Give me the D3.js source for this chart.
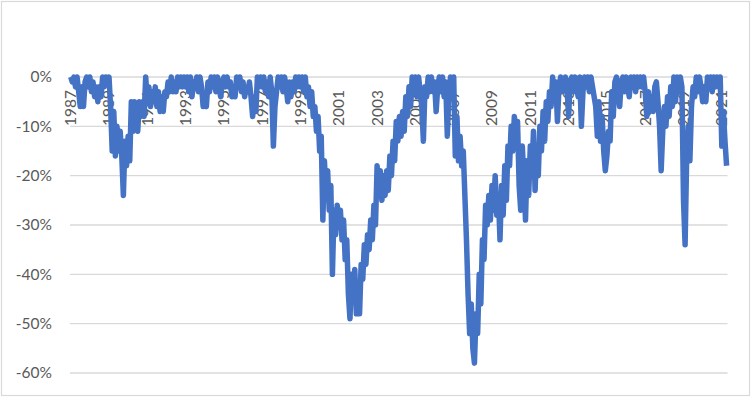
<!DOCTYPE html>
<html>
<head>
<meta charset="utf-8">
<script src="https://cdn.jsdelivr.net/npm/d3@7"></script>
<style>
  body { margin: 0; background: #fff; }
  svg { display: block; }
  .tick-label { font-family: Lato, "Open Sans", sans-serif; font-size: 15.5px; fill: #595959; }
</style>
</head>
<body>
<svg id="chart" width="752" height="397"></svg>
<script>
// monthly drawdown in %, one row per year
const dd1980s = [
   0, -1,  0, -2,  0, -3, -6, -2, -6, -1,  0, -2,   // 1987
   0, -3, -1, -4, -2, -5, -2, -4,  0, -2,  0, -1,   // 1988
   0, -6,-15, -7,-16,-10,-15,-11,-16,-24,-13,-18    // 1989
];
const dd1990s = [
 -12,-17, -5,-11, -5, -9,-11, -5, -8, -5, -8,  0,   // 1990
  -5, -2, -6, -3, -5, -2, -6, -3, -7, -4, -7, -3,   // 1991
  -4, -1, -3,  0, -3, -1, -3,  0, -2,  0, -2,  0,   // 1992
  -2,  0, -3,  0, -4, -1, -2,  0, -3,  0, -2, -6,   // 1993
  -4, -6, -1, -3,  0, -2,  0, -3,  0, -2, -4, -1,   // 1994
   0, -2,  0, -2, -1, -4, -2, -4,  0, -2,  0, -3,   // 1995
  -1, -4, -2, -3, -1, -4, -8, -4, -7,  0, -2,  0,   // 1996
  -2,  0, -3, -1, -4,  0, -3,-14, -6, -3,  0, -2,   // 1997
   0, -3,  0, -2, -5, -1, -4, -1, -3,  0, -2,  0,   // 1998
  -2,  0, -3,  0, -4, -2, -6, -3, -8, -6,-11, -8    // 1999
];
const dd2000s = [
 -15,-12,-29,-17,-24,-19,-27,-22,-40,-27,-32,-26,   // 2000
 -30,-27,-33,-29,-37,-33,-44,-49,-40,-45,-39,-48,   // 2001
 -44,-48,-38,-41,-34,-38,-32,-35,-29,-33,-26,-30,   // 2002
 -18,-24,-19,-25,-20,-24,-19,-23,-16,-20,-13,-17,   // 2003
  -9,-13, -8,-12, -7,-11, -4, -8, -2, -6,  0, -3,   // 2004
   0, -4,  0, -3, -6,-13, -2, -4,  0, -3,  0, -3,   // 2005
  -1, -7, -2,  0, -3,  0, -4, -1,-12, -3,  0, -2,   // 2006
   0,-16, -8,-17,-12,-18,-15,-24,-33,-44,-52,-46,   // 2007
 -55,-58,-48,-52,-40,-46,-33,-37,-26,-30,-24,-29,   // 2008
 -22,-27,-20,-28,-24,-33,-22,-28,-18,-25,-14,-18    // 2009
];
const dd2010s = [
 -10,-15, -8,-12, -9,-22,-27,-14,-21,-29,-17,-24,   // 2010
 -14,-19,-11,-23,-14,-20,-10,-15, -7,-13, -5, -9,   // 2011
  -3, -6,  0, -3, -1, -9, -2,  0, -3, -1,  0, -2,   // 2012
  -8, -1,  0, -3,  0, -2, -4,  0,-10, -3,  0, -2,   // 2013
   0, -3,  0, -2, -4, -6,-12, -5,-13, -8,-15,-19,   // 2014
 -16,-11,-13, -3, -8, -1,  0, -3, -6, -1,  0, -3,   // 2015
   0, -2, -4,  0, -2,  0, -3,  0, -2,  0, -2,  0,   // 2016
  -3, -8, -3, -7, -4, -7, -2, -1, -5,-10,-19,-11,   // 2017
  -6,-10, -4, -8, -2, -6,  0, -5,  0, -3,  0, -2,   // 2018
 -25,-34,-16,-10,-17, -6, -2, -4,  0, -3,  0, -2    // 2019
];
const dd2020s = [
  -5, -2, -5,  0, -2,  0, -3,  0, -2,  0, -2,  0,   // 2020
 -14, -7,-13,-18                                    // 2021
];

const startYear = 1987;
const yearLabels = d3.range(1987, 2022, 2);
const pctTicks = [0, -10, -20, -30, -40, -50, -60];

const drawdown = [].concat(dd1980s, dd1990s, dd2000s, dd2010s, dd2020s)
  .map((v, i) => ({ t: startYear + i / 12, v }));

const W = 752, H = 397;
const svg = d3.select('#chart');

const x = d3.scaleLinear().domain([1987, 2021]).range([70.7, 721.8]);
const y = d3.scaleLinear().domain([-60, 0]).range([373, 77]);

// chart border
svg.append('rect')
  .attr('x', 1.5).attr('y', 1.5)
  .attr('width', W - 4).attr('height', H - 3)
  .attr('fill', '#fff')
  .attr('stroke', '#d9d9d9')
  .attr('stroke-width', 1.2);

// gridlines
svg.append('g')
  .selectAll('line')
  .data(pctTicks)
  .join('line')
  .attr('x1', 70).attr('x2', 727.5)
  .attr('y1', d => y(d)).attr('y2', d => y(d))
  .attr('stroke', '#d9d9d9')
  .attr('stroke-width', 1.3);

// y labels
svg.append('g')
  .selectAll('text')
  .data(pctTicks)
  .join('text')
  .attr('class', 'tick-label')
  .attr('x', 52)
  .attr('y', d => y(d))
  .attr('dy', '0.35em')
  .attr('text-anchor', 'end')
  .text(d => d + '%');

// x labels, hanging under the 0% line
svg.append('g')
  .selectAll('text')
  .data(yearLabels)
  .join('text')
  .attr('class', 'tick-label')
  .attr('transform', d => `translate(${x(d)},90) rotate(-90)`)
  .attr('dy', '0.35em')
  .attr('text-anchor', 'end')
  .text(d => d);

const line = d3.line()
  .x(d => x(d.t))
  .y(d => y(d.v));

svg.append('path')
  .datum(drawdown)
  .attr('d', line)
  .attr('fill', 'none')
  .attr('stroke', '#4472C4')
  .attr('stroke-width', 5.5)
  .attr('stroke-linejoin', 'round');
</script>
</body>
</html>
